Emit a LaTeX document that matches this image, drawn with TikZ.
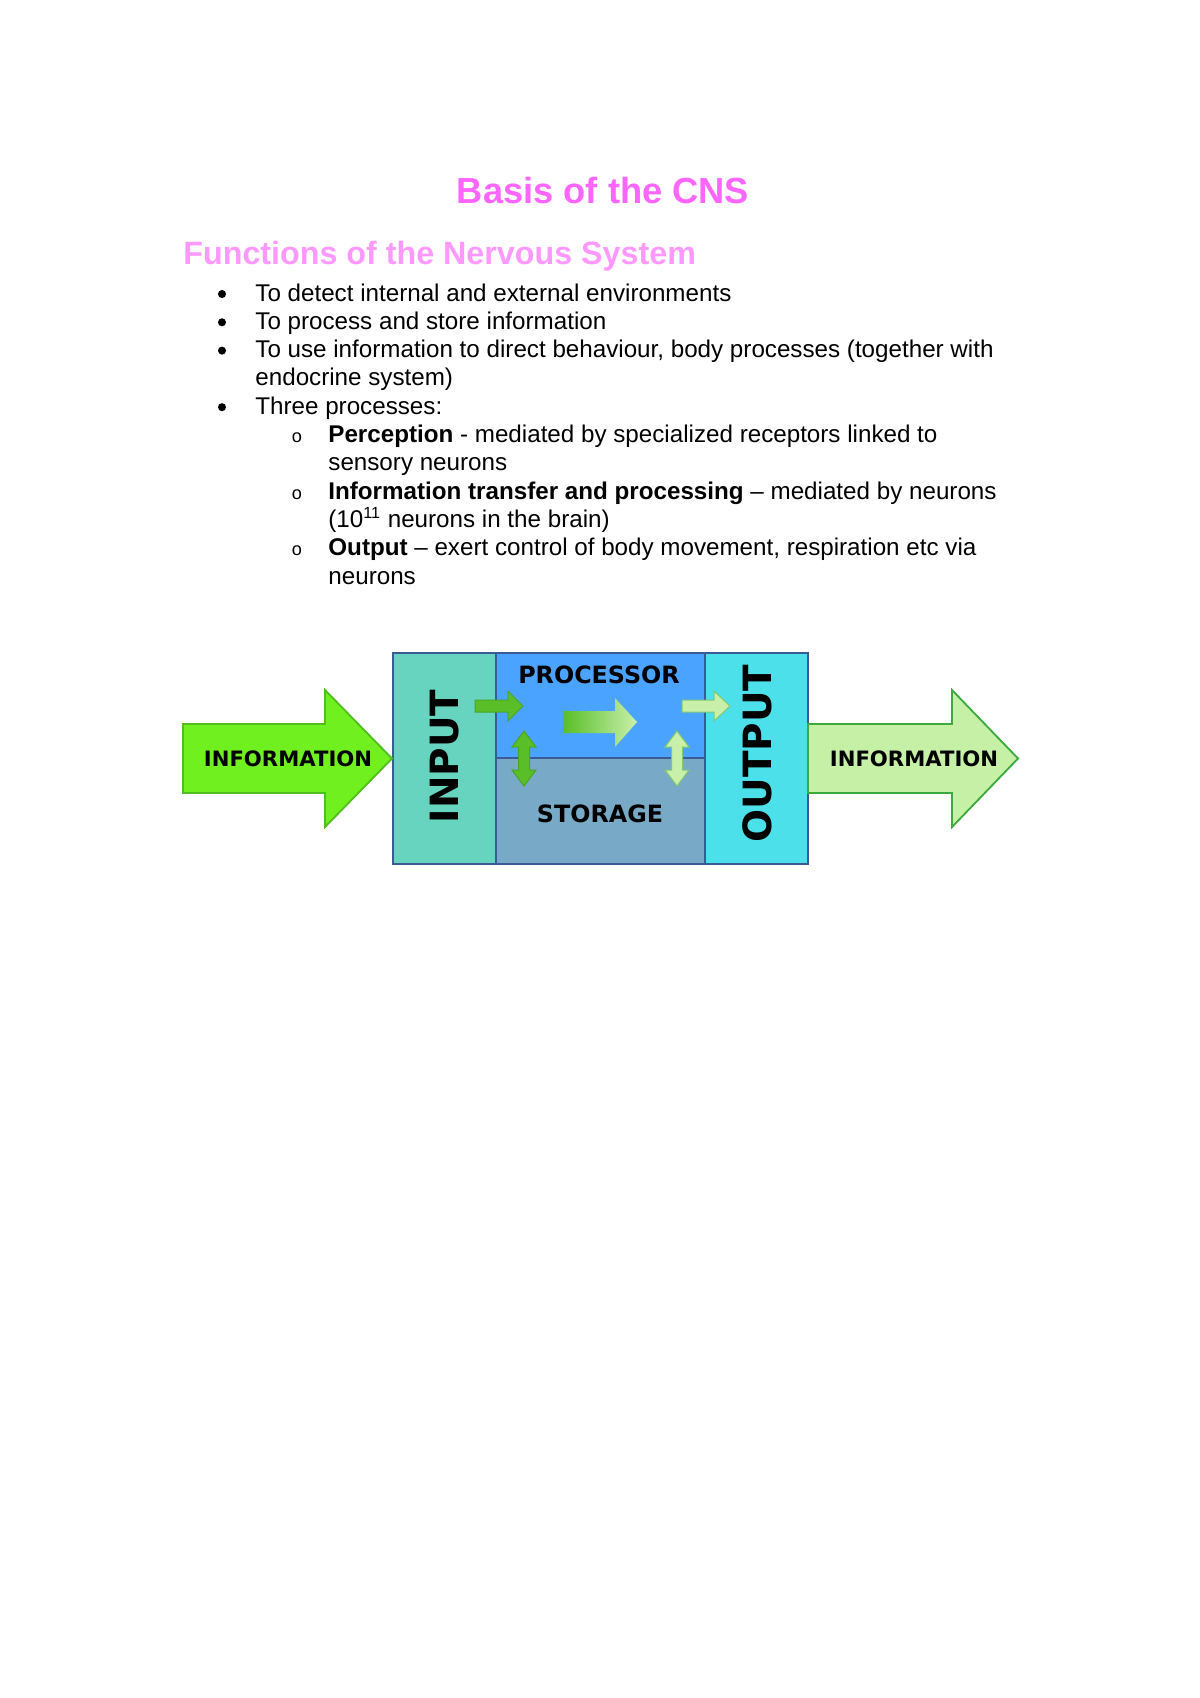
\documentclass[tikz,border=0pt]{standalone}
\usepackage{fontspec}
\setmainfont{Liberation Sans}
\newfontfamily\dejavu{DejaVu Sans}
\definecolor{titlepink}{RGB}{255,102,255}
\definecolor{subpink}{RGB}{255,153,255}
\definecolor{inputcol}{RGB}{102,212,190}
\definecolor{proccol}{RGB}{74,163,255}
\definecolor{storcol}{RGB}{120,170,200}
\definecolor{outcol}{RGB}{76,224,234}
\definecolor{boxline}{RGB}{59,91,148}
\definecolor{greenA}{RGB}{112,240,30}
\definecolor{greenAline}{RGB}{80,190,30}
\definecolor{lightA}{RGB}{197,240,165}
\definecolor{lightAline}{RGB}{60,170,60}
\definecolor{midgreen}{RGB}{90,190,40}
\definecolor{midgreenline}{RGB}{75,165,35}
\definecolor{palegreen}{RGB}{200,240,170}
\definecolor{palegreenline}{RGB}{130,200,110}
\begin{document}
\begin{tikzpicture}[x=0.49607pt,y=-0.49607pt,
  body/.style={anchor=base west,inner sep=0,font=\fontsize{12}{14}\selectfont},
  dot/.style={circle,fill=black,inner sep=0,minimum size=4pt},
  subdot/.style={anchor=base,inner sep=0,font=\fontsize{9}{9}\selectfont},
  diag/.style={inner sep=0,font=\dejavu\bfseries\fontsize{11.8}{12}\selectfont},
  infotext/.style={inner sep=0,font=\dejavu\bfseries\fontsize{10.5}{12}\selectfont},
  vert/.style={inner sep=0,rotate=90,font=\dejavu\bfseries\fontsize{19.3}{20}\selectfont},
  cell/.style={draw=boxline,line width=0.9pt},
  bigarrow/.style={line width=0.9pt,line join=miter},
  smallarrow/.style={line width=0.5pt,line join=miter},
]
\fill[white] (0,0) rectangle (1200,1698);
\useasboundingbox (0,0) rectangle (1200,1698);

% headings
\node[anchor=base,inner sep=0,font=\bfseries\fontsize{18}{20}\selectfont,text=titlepink] (title) at (603,203) {Basis of the CNS};
\node[anchor=base west,inner sep=0,font=\bfseries\fontsize{16}{18}\selectfont,text=subpink] (subtitle) at (183,264) {Functions of the Nervous System};

% bullet list
\node[dot] (d1) at (222,294) {};
\node[body] (l1) at (255,301) {To detect internal and external environments};
\node[dot] (d2) at (222,322.3) {};
\node[body] (l2) at (255,329.3) {To process and store information};
\node[dot] (d3) at (222,350.6) {};
\node[body] (l3) at (255,357.6) {To use information to direct behaviour, body processes (together with};
\node[body] (l4) at (255,385.9) {endocrine system)};
\node[dot] (d5) at (222,407.2) {};
\node[body] (l5) at (255,414.2) {Three processes:};
\node[subdot] (o6) at (297,442.5) {o};
\node[body] (l6) at (328,442.5) {\textbf{Perception} - mediated by specialized receptors linked to};
\node[body] (l7) at (328,470.8) {sensory neurons};
\node[subdot] (o8) at (297,499.1) {o};
\node[body] (l8) at (328,499.1) {\textbf{Information transfer and processing} -- mediated by neurons};
\node[body] (l9) at (328,527.4) {(10\textsuperscript{11} neurons in the brain)};
\node[subdot] (o10) at (297,555.7) {o};
\node[body] (l10) at (328,555.7) {\textbf{Output} -- exert control of body movement, respiration etc via};
\node[body] (l11) at (328,584) {neurons};

% diagram cells
\filldraw[cell,fill=inputcol] (393,653) rectangle (496,864);
\filldraw[cell,fill=proccol] (496,653) rectangle (705,758);
\filldraw[cell,fill=storcol] (496,758) rectangle (705,864);
\filldraw[cell,fill=outcol] (705,653) rectangle (808,864);

% big information arrows
\filldraw[bigarrow,fill=greenA,draw=greenAline] (183,724) -- (325,724) -- (325,690) -- (392,758.5) -- (325,827) -- (325,793) -- (183,793) -- cycle;
\filldraw[bigarrow,fill=lightA,draw=lightAline] (808,724) -- (952,724) -- (952,690) -- (1018,758.5) -- (952,827) -- (952,793) -- (808,793) -- cycle;

% inner arrows
\filldraw[smallarrow,fill=midgreen,draw=midgreenline] (475,700) -- (508,700) -- (508,691) -- (523,706) -- (508,721) -- (508,712) -- (475,712) -- cycle;
\shade[left color=midgreen,right color=palegreen] (563,711) -- (615,711) -- (615,698) -- (637,722) -- (615,747) -- (615,733) -- (563,733) -- cycle;
\filldraw[smallarrow,fill=palegreen,draw=palegreenline] (682,700) -- (714,700) -- (714,691) -- (730,706) -- (714,721) -- (714,712) -- (682,712) -- cycle;
\filldraw[smallarrow,fill=midgreen,draw=midgreenline] (524,731) -- (536,747) -- (529.5,747) -- (529.5,770) -- (536,770) -- (524,786) -- (512,770) -- (518.5,770) -- (518.5,747) -- (512,747) -- cycle;
\filldraw[smallarrow,fill=palegreen,draw=palegreenline] (677,731) -- (689,747) -- (682.5,747) -- (682.5,770) -- (689,770) -- (677,786) -- (665,770) -- (671.5,770) -- (671.5,747) -- (665,747) -- cycle;

% diagram labels
\node[infotext] (infoin) at (288,758.5) {INFORMATION};
\node[infotext] (infoout) at (914,759) {INFORMATION};
\node[diag,anchor=base] (proc) at (599,683) {PROCESSOR};
\node[diag,anchor=base] (stor) at (600,822) {STORAGE};
\node[vert] (input) at (445,756.5) {INPUT};
\node[vert] (output) at (757.5,753.5) {OUTPUT};
\end{tikzpicture}
\end{document}
